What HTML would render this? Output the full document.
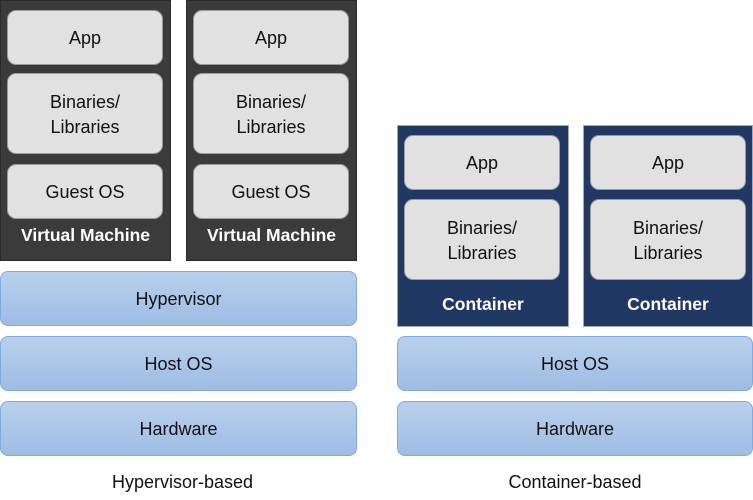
<!DOCTYPE html><html><head><style>
body{margin:0;width:753px;height:500px;background:#fff;font-family:"Liberation Sans",sans-serif;position:relative;overflow:hidden}
div{position:absolute;box-sizing:border-box}
.vm{background:#3b3b3b;border:1px solid #2a2a2a}
.ct{background:#1f3864;border:1px solid #a0a8b8}
.in{background:#e1e1e1;border:1px solid #9a9a9a;border-radius:9px;display:flex;align-items:center;justify-content:center;text-align:center;font-size:18px;color:#111;line-height:25px;padding-top:2px}
.lb{color:#fff;font-weight:bold;font-size:17.5px;text-align:center;width:100%}
.ly{background:linear-gradient(#b8d0ec,#9ebde4);border:1px solid #7eaadf;border-radius:8px;display:flex;align-items:center;justify-content:center;font-size:18px;color:#111;padding-top:2px}
.cap{font-size:18px;color:#111;text-align:center}
</style></head><body>
<div class="vm" style="left:0;top:0;width:171px;height:261px">
<div class="in" style="left:6px;top:9px;width:156px;height:55px">App</div>
<div class="in" style="left:6px;top:72px;width:156px;height:81px">Binaries/<br>Libraries</div>
<div class="in" style="left:6px;top:163px;width:156px;height:55px">Guest OS</div>
<div class="lb" style="left:0;top:224px">Virtual Machine</div></div>
<div class="vm" style="left:186px;top:0;width:171px;height:261px">
<div class="in" style="left:6px;top:9px;width:156px;height:55px">App</div>
<div class="in" style="left:6px;top:72px;width:156px;height:81px">Binaries/<br>Libraries</div>
<div class="in" style="left:6px;top:163px;width:156px;height:55px">Guest OS</div>
<div class="lb" style="left:0;top:224px">Virtual Machine</div></div>
<div class="ly" style="left:0;top:271px;width:357px;height:55px">Hypervisor</div>
<div class="ly" style="left:0;top:336px;width:357px;height:55px">Host OS</div>
<div class="ly" style="left:0;top:401px;width:357px;height:55px">Hardware</div>
<div class="ct" style="left:397px;top:125px;width:172px;height:202px">
<div class="in" style="left:6px;top:9px;width:156px;height:55px">App</div>
<div class="in" style="left:6px;top:73px;width:156px;height:81px">Binaries/<br>Libraries</div>
<div class="lb" style="left:0;top:168px">Container</div></div>
<div class="ct" style="left:583px;top:125px;width:170px;height:202px">
<div class="in" style="left:6px;top:9px;width:156px;height:55px">App</div>
<div class="in" style="left:6px;top:73px;width:156px;height:81px">Binaries/<br>Libraries</div>
<div class="lb" style="left:0;top:168px">Container</div></div>
<div class="ly" style="left:397px;top:336px;width:356px;height:55px">Host OS</div>
<div class="ly" style="left:397px;top:401px;width:356px;height:55px">Hardware</div>
<div class="cap" style="left:0;top:472px;width:365px">Hypervisor-based</div>
<div class="cap" style="left:397px;top:472px;width:356px">Container-based</div>
</body></html>
